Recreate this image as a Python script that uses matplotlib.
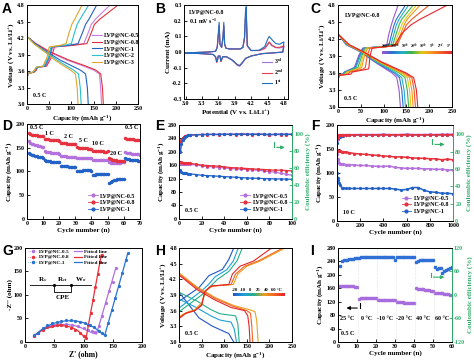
import matplotlib
matplotlib.use("Agg")
import matplotlib.pyplot as plt
import numpy as np
from matplotlib.lines import Line2D
from matplotlib.colors import LinearSegmentedColormap

plt.rcParams["font.family"] = "Liberation Serif"
plt.rcParams["font.weight"] = "bold"
plt.rcParams["axes.labelweight"] = "bold"
plt.rcParams["mathtext.fontset"] = "custom"
plt.rcParams["mathtext.rm"] = "Liberation Serif:bold"
plt.rcParams["mathtext.it"] = "Liberation Serif:italic:bold"
plt.rcParams["mathtext.bf"] = "Liberation Serif:bold"

# ---------------- A: charge / discharge of the five samples (0.5 C)
a_labels = ["LVP@NC-0.5", "LVP@NC-0.8", "LVP@NC-1", "LVP@NC-2", "LVP@NC-3"]
a_colors = ["#c87ee0", "#e5323e", "#2262c6", "#27c1c9", "#e2a52a"]
a_chg_v = [3.45, 3.56, 3.58, 3.62, 3.67, 3.69, 3.85, 4.04, 4.07, 4.10, 4.30, 4.45, 4.55, 4.80]
a_chg_cap = [
    [0, 2, 15, 20, 23, 42, 52, 58, 100, 128, 138, 145, 155, 187],
    [0, 2, 16, 21, 24, 44, 55, 62, 105, 135, 145, 152, 165, 205],
    [0, 2, 14, 19, 22, 40, 50, 56, 95, 115, 125, 132, 140, 157],
    [0, 2, 13, 18, 21, 38, 48, 54, 85, 100, 107, 113, 120, 139],
    [0, 2, 12, 17, 20, 36, 45, 50, 75, 88, 95, 101, 108, 124],
]
a_dis_v = [4.80, 4.22, 4.10, 3.95, 3.80, 3.70, 3.62, 3.55, 3.30, 3.00]
a_dis_cap = [
    [0, 1, 20, 50, 90, 125, 150, 163, 166, 168],
    [0, 1, 20, 52, 95, 130, 155, 166, 170, 172],
    [0, 1, 18, 45, 75, 100, 120, 132, 136, 138],
    [0, 1, 16, 42, 68, 88, 105, 116, 120, 122],
    [0, 1, 15, 40, 63, 82, 98, 109, 113, 115],
]

# ---------------- B: CV of LVP@NC-0.8, cycles 3rd / 2nd / 1st
b_labels = ["3$^{rd}$", "2$^{nd}$", "1$^{st}$"]
b_colors = ["#a274d6", "#e5404e", "#1f6fc4"]
b_ox_v = [3.00, 3.40, 3.55, 3.58, 3.60, 3.615, 3.63, 3.66, 3.685, 3.70, 3.715, 3.74, 3.80, 4.00,
          4.05, 4.08, 4.095, 4.11, 4.13, 4.20, 4.35, 4.45, 4.50, 4.53, 4.58, 4.65, 4.72, 4.80]
b_ox_i = [
    [-0.005, 0.0, 0.005, 0.03, 0.11, 0.165, 0.05, 0.03, 0.09, 0.165, 0.05, 0.025, 0.02, 0.02,
     0.03, 0.09, 0.21, 0.25, 0.04, 0.01, 0.01, 0.022, 0.045, 0.06, 0.04, 0.028, 0.026, 0.035],
    [-0.005, 0.0, 0.005, 0.03, 0.11, 0.17, 0.05, 0.03, 0.09, 0.17, 0.05, 0.025, 0.02, 0.02,
     0.03, 0.09, 0.22, 0.26, 0.04, 0.01, 0.01, 0.025, 0.05, 0.065, 0.045, 0.03, 0.03, 0.04],
    [-0.005, 0.0, 0.005, 0.03, 0.12, 0.19, 0.05, 0.03, 0.10, 0.19, 0.05, 0.025, 0.02, 0.02,
     0.03, 0.10, 0.25, 0.29, 0.04, 0.01, 0.012, 0.035, 0.08, 0.10, 0.08, 0.055, 0.05, 0.065],
]
b_red_v = [4.80, 4.78, 4.60, 4.40, 4.20, 4.10, 4.03, 3.99, 3.95, 3.85, 3.75, 3.68, 3.655,
           3.645, 3.63, 3.60, 3.58, 3.57, 3.55, 3.50, 3.30, 3.00]
b_red_i = [
    [0.035, 0.0, -0.005, -0.01, -0.025, -0.04, -0.075, -0.09, -0.085, -0.05, -0.03, -0.03,
     -0.055, -0.06, -0.025, -0.025, -0.06, -0.065, -0.03, -0.015, -0.01, -0.005],
    [0.04, 0.0, -0.005, -0.01, -0.025, -0.04, -0.072, -0.088, -0.082, -0.05, -0.03, -0.03,
     -0.055, -0.06, -0.025, -0.025, -0.06, -0.065, -0.03, -0.015, -0.01, -0.005],
    [0.065, 0.0, -0.005, -0.01, -0.025, -0.04, -0.07, -0.085, -0.08, -0.05, -0.03, -0.03,
     -0.05, -0.055, -0.025, -0.025, -0.055, -0.06, -0.03, -0.015, -0.01, -0.005],
]

# ---------------- C: LVP@NC-0.8 over cycling (1st ... 200th)
c_labels = ["1$^{st}$", "2$^{nd}$", "5$^{th}$", "10$^{th}$", "20$^{th}$", "50$^{th}$", "100$^{th}$", "200$^{th}$"]
c_colors = ["#e8262a", "#f05a28", "#f7941d", "#e6c619", "#3cb44b", "#20b2c8", "#2c6fd1", "#9b59d0"]
c_label_pos = [243, 225, 206, 187, 167, 146, 125, 104]
c_chg_v = [3.45, 3.56, 3.58, 3.62, 3.67, 3.70, 3.90, 4.04, 4.07, 4.10, 4.30, 4.45, 4.55, 4.80]
c_chg_cap = [
    [0, 2, 28, 32, 66, 68, 70, 75, 110, 125, 140, 160, 180, 240],
    [0, 2, 22, 27, 55, 60, 64, 70, 112, 130, 142, 150, 162, 200],
    [0, 2, 18, 23, 45, 52, 58, 65, 110, 128, 138, 145, 152, 180],
    [0, 2, 16, 20, 40, 48, 55, 62, 108, 124, 133, 140, 147, 172],
    [0, 2, 14, 18, 35, 44, 52, 60, 105, 120, 128, 134, 140, 165],
    [0, 2, 12, 16, 32, 40, 49, 58, 102, 116, 123, 128, 134, 155],
    [0, 2, 11, 15, 30, 38, 47, 56, 100, 112, 118, 123, 128, 148],
    [0, 2, 10, 14, 28, 36, 45, 54, 96, 107, 112, 117, 121, 132],
]
c_dis_v = [4.80, 4.28, 4.10, 3.98, 3.80, 3.68, 3.60, 3.52, 3.30, 3.00]
c_dis_cap = [
    [0, 1, 25, 55, 95, 128, 150, 166, 172, 175],
    [0, 1, 24, 54, 93, 125, 147, 162, 167, 170],
    [0, 1, 23, 53, 91, 122, 143, 157, 162, 165],
    [0, 1, 22, 52, 89, 119, 139, 152, 157, 160],
    [0, 1, 21, 51, 87, 116, 135, 147, 152, 155],
    [0, 1, 20, 50, 84, 111, 128, 140, 145, 148],
    [0, 1, 19, 49, 82, 107, 124, 135, 140, 143],
    [0, 1, 18, 48, 80, 103, 119, 129, 134, 137],
]

# ---------------- D: rate performance
d_labels = ["LVP@NC-0.5", "LVP@NC-0.8", "LVP@NC-1"]
d_colors = ["#b470dc", "#e5323e", "#2262c6"]
d_cycles = list(range(1, 71))
d_cap = [
    [164, 160, 158, 157, 156, 155, 154, 153, 152, 151,
     142, 141, 140, 140, 139, 139, 138, 138, 138, 137,
     133, 132, 132, 132, 131, 131, 131, 131, 131, 130,
     128, 128, 128, 127, 127, 127, 127, 127, 127, 127,
     123, 123, 123, 123, 123, 124, 124, 124, 124, 124,
     119, 118, 118, 118, 118, 118, 118, 118, 119, 119,
     141, 139, 138, 138, 137, 137, 136, 136, 136, 135],
    [180, 178, 177, 177, 176, 176, 175, 175, 175, 174,
     168, 167, 167, 166, 166, 166, 165, 165, 165, 164,
     160, 159, 159, 159, 158, 158, 158, 158, 157, 157,
     151, 150, 150, 150, 149, 149, 149, 148, 148, 148,
     143, 143, 142, 142, 142, 142, 142, 141, 141, 142,
     127, 125, 124, 123, 123, 122, 122, 122, 122, 121,
     170, 169, 168, 168, 167, 167, 166, 166, 166, 165],
    [138, 136, 135, 134, 133, 132, 131, 130, 130, 129,
     123, 122, 121, 121, 120, 120, 120, 119, 119, 119,
     112, 111, 111, 111, 111, 110, 110, 110, 110, 110,
     101, 101, 101, 101, 102, 102, 102, 102, 102, 101,
     93, 93, 94, 94, 94, 94, 94, 94, 94, 94,
     76, 78, 80, 81, 82, 83, 83, 84, 84, 84,
     127, 126, 125, 124, 124, 123, 123, 123, 122, 122],
]
d_rates = ["0.5 C", "1 C", "2 C", "5 C", "10 C", "20 C", "0.5 C"]
d_rate_x = [6, 14, 25.5, 35, 44, 55.5, 65]
d_rate_y = [186, 174, 167, 160, 153, 133, 187]

# ---------------- E: cycling at 0.5 C
e_cycles = [1, 2, 3, 4, 5, 6, 8, 10, 15, 20, 25, 30, 35, 40, 45, 50, 55, 60, 65, 70, 75, 80, 85, 90, 95, 100]
e_cap = [
    [165, 164, 164, 163, 163, 163, 162, 162, 161, 158, 156, 155, 153, 152, 150, 149, 148, 147, 146, 145, 143, 141, 139, 136, 133, 130],
    [168, 168, 167, 167, 167, 166, 166, 165, 163, 160, 159, 158, 157, 155, 153, 152, 151, 150, 149, 148, 147, 146, 145, 145, 144, 143],
    [146, 140, 138, 137, 136, 136, 135, 134, 132, 130, 129, 128, 127, 126, 125, 124, 123, 122, 121, 121, 120, 120, 119, 119, 118, 118],
]
e_ce = [
    [80, 90, 94, 96, 97, 97.8, 98.4, 98.8, 99.1, 99.3, 99.4, 99.6, 99.5, 99.7, 99.6, 99.8, 100.2, 99.8, 99.6, 99.9, 99.7, 98.5, 99.6, 99.8, 99.7, 99.6],
    [91.7, 93, 95, 96.5, 97.5, 98, 98.6, 98.9, 99.1, 99.2, 99.2, 99.3, 99.2, 99.3, 99.3, 99.2, 99.3, 99.3, 99.2, 99.3, 99.3, 99.2, 99.3, 99.2, 99.2, 99.3],
    [79, 88, 93, 95.5, 96.5, 97.5, 98.2, 98.6, 99.0, 99.2, 99.3, 99.4, 99.3, 99.5, 99.4, 99.6, 99.8, 99.6, 99.5, 99.6, 99.4, 99.5, 99.3, 99.5, 99.4, 99.5],
]

# ---------------- F: long cycling at 10 C
f_cycles = [1, 5, 10, 20, 30, 40, 50, 75, 100, 150, 200, 250, 300, 350, 400, 450, 500, 550,
            600, 650, 700, 750, 800, 850, 900, 950, 1000]
f_cap = [
    [140, 130, 125, 121, 120, 119, 119, 118, 118, 117, 116, 116, 115, 114, 114, 115, 112, 111,
     110, 110, 110, 109, 109, 108, 108, 107, 106],
    [148, 147, 147, 146, 146, 145, 145, 144, 143, 141, 140, 139, 138, 137, 136, 135, 134, 134,
     133, 132, 131, 131, 130, 130, 128, 129, 128],
    [100, 90, 85, 80, 75, 70, 69, 68, 68, 68, 68, 68, 68, 68, 68, 68, 67, 65,
     66, 70, 70, 64, 61, 60, 58, 58, 57],
]
f_ce = [
    [94, 97, 98.5, 99, 99.3, 99.5, 99.6, 99.6, 99.7, 99.6, 99.8, 99.7, 99.8, 99.7, 100.2, 99.8,
     99.7, 99.8, 100.2, 99.8, 99.7, 99.8, 99.9, 99.8, 100.1, 99.9, 100.3],
    [96, 98.5, 99, 99.3, 99.4, 99.5, 99.5, 99.5, 99.5, 99.5, 99.5, 99.5, 99.5, 99.5, 99.5, 99.5,
     99.5, 99.5, 99.5, 99.5, 99.5, 99.5, 99.5, 99.5, 99.5, 99.5, 99.5],
    [90, 95, 96.5, 97, 97.5, 98, 98.5, 99, 99, 99.2, 99.2, 99.3, 99.3, 99.3, 99.4, 99.3, 99.4,
     99.4, 99.4, 99.3, 99.4, 99.4, 99.4, 99.4, 99.4, 99.4, 99.4],
]

# ---------------- G: Nyquist plots
g_pts_x = [
    [15, 22, 30, 40, 50, 60, 70, 80, 90, 100, 108, 114, 120, 126, 132, 138, 144, 150, 155],
    [15, 22, 30, 38, 46, 54, 62, 70, 78, 86, 94, 100, 104, 108, 112, 116, 120, 124, 128, 131],
    [15, 22, 30, 38, 46, 54, 62, 70, 78, 86, 94, 102, 110, 118, 126, 132, 136, 142, 148, 154, 160, 166, 172, 176],
]
g_pts_y = [
    [13, 19, 27, 33, 36, 38, 38, 36, 33, 30, 26, 24, 22, 33, 55, 83, 108, 128, 158],
    [13, 19, 26, 31, 34, 35, 35, 33, 30, 26, 20, 13, 9, 35, 62, 90, 117, 144, 171, 186],
    [14, 20, 29, 35, 40, 43, 45, 46, 46, 45, 43, 41, 37, 31, 24, 18, 15, 41, 68, 94, 120, 147, 174, 190],
]
g_fit_x = [
    [15, 20, 30, 40, 50, 60, 70, 80, 90, 100, 110, 117, 122, 130, 140, 150, 155],
    [15, 20, 30, 40, 50, 60, 70, 80, 90, 97, 101, 104, 110, 120, 130],
    [15, 20, 30, 40, 50, 60, 70, 80, 90, 100, 110, 120, 128, 136, 145, 155, 165, 175],
]
g_fit_y = [
    [12, 17, 25, 31, 35, 37, 37.5, 36, 33, 28, 22, 18, 17, 51, 94, 136, 158],
    [12, 18, 26, 31, 34, 35, 34, 31, 24, 16, 10, 8, 49, 117, 185],
    [12, 18, 28, 35, 40, 43, 45, 45, 44, 41, 36, 29, 21, 14, 54, 98, 142, 187],
]

# ---------------- H: LVP@NC-0.8 at different temperatures
h_temps = ["-20", "-10", "0", "25", "40", "60 \u00b0C"]
h_colors = ["#2255c4", "#1f9fd8", "#22b08c", "#e8a21f", "#f26522", "#e52424"]
h_label_pos = [124, 141, 157, 174, 193, 215]
h_chg = [
    ([0, 44, 66, 96, 110, 121], [3.78, 4.04, 4.27, 4.39, 4.58, 4.80]),
    ([0, 50, 65, 80, 105, 120, 131], [3.65, 3.98, 4.10, 4.25, 4.38, 4.55, 4.80]),
    ([0, 50, 70, 85, 110, 128, 140], [3.58, 3.90, 4.07, 4.20, 4.35, 4.55, 4.80]),
    ([0, 15, 35, 50, 60, 75, 120, 130, 150, 180, 235], [3.48, 3.56, 3.62, 3.75, 4.00, 4.07, 4.10, 4.30, 4.45, 4.55, 4.80]),
    ([0, 15, 35, 50, 58, 72, 115, 125, 145, 175, 230], [3.47, 3.55, 3.60, 3.72, 3.98, 4.07, 4.10, 4.30, 4.45, 4.55, 4.80]),
    ([0, 15, 35, 50, 56, 70, 110, 118, 135, 165, 205], [3.45, 3.55, 3.60, 3.70, 3.95, 4.07, 4.10, 4.30, 4.45, 4.55, 4.80]),
]
h_dis = [
    ([0, 44, 74, 110, 118, 121], [3.95, 3.46, 3.30, 3.16, 3.04, 3.00]),
    ([0, 40, 70, 90, 115, 122, 127], [3.82, 3.65, 3.50, 3.42, 3.38, 3.25, 3.00]),
    ([0, 40, 70, 90, 125, 130, 133], [3.95, 3.78, 3.62, 3.54, 3.50, 3.35, 3.00]),
    ([0, 40, 80, 120, 155, 168, 172, 175], [4.32, 4.05, 3.85, 3.70, 3.62, 3.58, 3.40, 3.00]),
    ([0, 40, 80, 120, 150, 158, 161, 163], [4.30, 4.03, 3.83, 3.68, 3.60, 3.55, 3.30, 3.00]),
    ([0, 40, 80, 115, 145, 152, 155, 157], [4.28, 4.00, 3.80, 3.66, 3.60, 3.50, 3.30, 3.00]),
]

# ---------------- I: cycling at different temperatures
i_cycles = list(range(1, 61))
i_cap = [168, 168, 167, 167, 167, 166, 166, 166, 165, 165,
         129, 130, 131, 131, 132, 132, 132, 132, 132, 131,
         125, 125, 125, 124, 124, 124, 124, 124, 124, 124,
         118, 118, 118, 118, 117, 117, 117, 117, 117, 117,
         160, 159, 158, 157, 157, 156, 155, 154, 153, 152,
         147, 147, 146, 146, 145, 144, 143, 142, 141, 140]
i_ce = [75, 86, 88, 89, 90, 91, 92, 93, 93.5, 94,
        95, 96, 97, 97, 97, 97.5, 97.5, 97, 97.5, 97.5,
        97, 97.5, 97.5, 97.5, 97.5, 97.5, 97.5, 97.5, 97, 89,
        97.5, 97.5, 97.5, 97.5, 97.5, 97.5, 97.5, 97.5, 97.5, 97.5,
        83, 87, 88, 88.5, 89, 89, 89, 89, 89, 89,
        72, 65, 68, 68, 57, 60, 63, 66, 69, 72]
i_temps = ["25 \u00b0C", "0 \u00b0C", "-10 \u00b0C", "-20 \u00b0C", "40 \u00b0C", "60 \u00b0C"]

GREEN = "#2fae6a"
FS = 4.3


def setup(ax, xlim, xticks, ylim, yticks, xlabel, ylabel, xdec=0, ydec=0):
    ax.set_xlim(xlim)
    ax.set_ylim(ylim)
    ax.set_xticks(xticks)
    ax.set_yticks(yticks)
    ax.set_xticklabels([f"{t:.{xdec}f}" for t in xticks])
    ax.set_yticklabels([f"{t:.{ydec}f}" for t in yticks])
    ax.tick_params(direction="in", length=2, width=0.6, labelsize=FS, pad=1.5)
    ax.set_xlabel(xlabel, fontsize=5, labelpad=1)
    ax.set_ylabel(ylabel, fontsize=5, labelpad=1)
    for s in ax.spines.values():
        s.set_linewidth(0.7)


def right_axis(ax, ylim, yticks):
    ax2 = ax.twinx()
    ax2.set_ylim(ylim)
    ax2.set_yticks(yticks)
    ax2.set_yticklabels([f"{t:.0f}" for t in yticks])
    ax2.tick_params(direction="in", length=2, width=0.6, labelsize=FS, pad=1.5, colors=GREEN)
    ax2.set_ylabel("Coulombic efficiency (%)", fontsize=5, labelpad=1.5, color=GREEN)
    ax2.spines["right"].set_color(GREEN)
    for s in ax2.spines.values():
        s.set_linewidth(0.7)
    return ax2


def small_legend(ax, **kw):
    leg = ax.legend(frameon=False, fontsize=FS, handlelength=1.6, labelspacing=0.25,
                    borderpad=0.2, handletextpad=0.4, **kw)
    return leg


fig = plt.figure(figsize=(4.74, 3.63), dpi=100)

VOLT = "Voltage (V vs. Li/Li$^{+}$)"
CAPX = "Capacity (mAh g$^{-1}$)"
v_ticks = [3.0, 3.3, 3.6, 3.9, 4.2, 4.5, 4.8]

# ---- A
ax = fig.add_axes([0.057, 0.713, 0.234, 0.273])
for i in range(5):
    ax.plot(a_chg_cap[i], a_chg_v, color=a_colors[i], lw=0.8, label=a_labels[i])
    ax.plot(a_dis_cap[i], a_dis_v, color=a_colors[i], lw=0.8)
setup(ax, (0, 250), [0, 50, 100, 150, 200, 250], (3.0, 4.8), v_ticks, CAPX, VOLT, ydec=1)
small_legend(ax, loc="upper left", bbox_to_anchor=(0.55, 0.76))
ax.text(0.05, 0.07, "0.5 C", transform=ax.transAxes, fontsize=FS)

# ---- B
ax = fig.add_axes([0.388, 0.727, 0.219, 0.259])
for i in range(3):
    ax.plot(b_ox_v + b_red_v, b_ox_i[i] + b_red_i[i], color=b_colors[i], lw=0.8, label=b_labels[i])
setup(ax, (2.97, 4.87), v_ticks, (-0.3, 0.3), [-0.3, -0.2, -0.1, 0.0, 0.1, 0.2, 0.3],
      "Potential (V vs. Li/Li$^{+}$)", "Current (mA)", xdec=1, ydec=1)
small_legend(ax, loc="lower right", bbox_to_anchor=(1.0, 0.08))
ax.text(0.05, 0.95, "LVP@NC-0.8\n0.1 mV s$^{-1}$", transform=ax.transAxes, fontsize=FS, va="top",
        linespacing=1.3)

# ---- C
ax = fig.add_axes([0.713, 0.705, 0.2405, 0.281])
for i in range(7, -1, -1):
    ax.plot(c_chg_cap[i], c_chg_v, color=c_colors[i], lw=0.8)
    ax.plot(c_dis_cap[i], c_dis_v, color=c_colors[i], lw=0.8)
setup(ax, (0, 250), [0, 50, 100, 150, 200, 250], (3.0, 4.8), v_ticks, CAPX, VOLT, ydec=1)
c_cmap = LinearSegmentedColormap.from_list("cyc", c_colors[::-1])
ax.imshow(np.linspace(0, 1, 256).reshape(1, -1), cmap=c_cmap, aspect="auto",
          extent=[96, 248, 3.93, 3.97], zorder=3)
for lab, xp in zip(c_labels, c_label_pos):
    ax.text(xp, 3.99, lab, fontsize=2.6, ha="center", va="bottom")
ax.set_xlim(0, 250)
ax.set_ylim(3.0, 4.8)
ax.text(0.06, 0.92, "LVP@NC-0.8", transform=ax.transAxes, fontsize=FS, va="top")
ax.text(0.05, 0.07, "0.5 C", transform=ax.transAxes, fontsize=FS)

# ---- D
ax = fig.add_axes([0.057, 0.397, 0.238, 0.262])
for i in range(3):
    ax.plot(d_cycles, d_cap[i], "o", ms=1.5, color=d_colors[i], label=d_labels[i])
setup(ax, (0, 70), [0, 10, 20, 30, 40, 50, 60, 70], (0, 200), [0, 50, 100, 150, 200],
      "Cycle number (n)", CAPX)
for lab, xp, yp in zip(d_rates, d_rate_x, d_rate_y):
    ax.text(xp, yp, lab, fontsize=FS, ha="center", va="bottom")
hd = [Line2D([], [], color=c, lw=0.6, marker="o", ms=2) for c in d_colors]
ax.legend(hd, d_labels, frameon=False, fontsize=FS, handlelength=1.6, labelspacing=0.25,
          borderpad=0.2, handletextpad=0.4, loc="lower right", bbox_to_anchor=(1.0, 0.03))

# ---- E
ax = fig.add_axes([0.378, 0.397, 0.238, 0.259])
for i in range(3):
    ax.plot(e_cycles, e_cap[i], "-o", ms=1.3, lw=0.9, color=d_colors[i])
setup(ax, (0, 100), [0, 20, 40, 60, 80, 100], (0, 280), [0, 40, 80, 120, 160, 200, 240, 280],
      "Cycle number (n)", CAPX)
ax2 = right_axis(ax, (0, 110.6), [0, 20, 40, 60, 80, 100])
for i in [0, 1, 2]:
    ax2.plot(e_cycles, e_ce[i], "-o", ms=1.3, lw=0.9, color=d_colors[i])
ax.plot([84, 84], [228, 213], color=GREEN, lw=0.8)
ax.annotate("", xy=(96, 213), xytext=(84, 213),
            arrowprops=dict(arrowstyle="-|>", color=GREEN, lw=0.8, mutation_scale=5))
ax.text(0.05, 0.07, "0.5 C", transform=ax.transAxes, fontsize=FS)
he = [Line2D([], [], color=c, lw=0.6, marker="o", ms=2) for c in d_colors]
ax.legend(he, d_labels, frameon=False, fontsize=FS, handlelength=1.6, labelspacing=0.25,
          borderpad=0.2, handletextpad=0.4, loc="lower right", bbox_to_anchor=(1.0, 0.03))

# ---- F
ax = fig.add_axes([0.711, 0.391, 0.245, 0.264])
for i in range(3):
    ax.plot(f_cycles, f_cap[i], "-o", ms=1.3, lw=1.1, color=d_colors[i])
setup(ax, (0, 1000), [0, 200, 400, 600, 800, 1000], (0, 200), [0, 50, 100, 150, 200],
      "Cycle number (n)", CAPX)
ax2 = right_axis(ax, (0, 110.5), [0, 20, 40, 60, 80, 100])
for i in [2, 0, 1]:
    ax2.plot(f_cycles, f_ce[i], "-o", ms=1.3, lw=1.1, color=d_colors[i])
ax.plot([819, 819], [171, 160], color=GREEN, lw=0.8)
ax.annotate("", xy=(950, 160), xytext=(819, 160),
            arrowprops=dict(arrowstyle="-|>", color=GREEN, lw=0.8, mutation_scale=5))
ax.text(0.05, 0.07, "10 C", transform=ax.transAxes, fontsize=FS)
ax.legend(he, d_labels, frameon=False, fontsize=FS, handlelength=1.6, labelspacing=0.25,
          borderpad=0.2, handletextpad=0.4, loc="lower right", bbox_to_anchor=(1.0, 0.03))

# ---- G
ax = fig.add_axes([0.053, 0.058, 0.247, 0.259])
g_colors = ["#b070e0", "#e8303a", "#2a72d0"]
for i in range(3):
    ax.plot(g_fit_x[i], g_fit_y[i], color=g_colors[i], lw=0.9)
    ax.plot(g_pts_x[i], g_pts_y[i], "o", ms=1.3, color=g_colors[i])
setup(ax, (0, 200), [0, 50, 100, 150, 200], (0, 200), [0, 50, 100, 150, 200],
      "Z' (ohm)", "-Z'' (ohm)")
ax.xaxis.label.set_size(5.5)
hg = [Line2D([], [], color=c, lw=0.5, ls=":", marker="o", ms=1.5) for c in g_colors]
hg += [Line2D([], [], color=c, lw=0.9) for c in g_colors]
ax.legend(hg, d_labels + ["Fitted line"] * 3, ncol=2, frameon=False, fontsize=3.8,
          handlelength=1.6, labelspacing=0.15, borderpad=0.1, handletextpad=0.4,
          columnspacing=0.8, loc="upper left", bbox_to_anchor=(0.0, 1.02))
# equivalent circuit sketch
ax.plot([8, 113], [122, 122], color="k", lw=0.6)
ax.plot([50, 50, 79, 79], [122, 106, 106, 122], color="k", lw=0.6)
ax.plot([50, 79], [122, 122], "o", ms=1.3, color="k")
ax.text(30, 124, "R$_s$", fontsize=5, ha="center", va="bottom")
ax.text(64, 124, "R$_{ct}$", fontsize=5, ha="center", va="bottom")
ax.text(95, 124, "W$_o$", fontsize=5, ha="center", va="bottom")
ax.text(64, 100, "CPE", fontsize=5, ha="center", va="top")

# ---- H
ax = fig.add_axes([0.378, 0.058, 0.238, 0.259])
for i in range(6):
    ax.plot(h_chg[i][0], h_chg[i][1], color=h_colors[i], lw=0.8)
    ax.plot(h_dis[i][0], h_dis[i][1], color=h_colors[i], lw=0.8)
setup(ax, (0, 250), [0, 50, 100, 150, 200, 250], (3.0, 4.8), v_ticks, CAPX, VOLT, ydec=1)
h_cmap = LinearSegmentedColormap.from_list("temp", h_colors)
ax.imshow(np.linspace(0, 1, 256).reshape(1, -1), cmap=h_cmap, aspect="auto",
          extent=[119, 234, 3.88, 3.93], zorder=3)
for lab, xp in zip(h_temps, h_label_pos):
    ax.text(xp, 3.96, lab, fontsize=3.3, ha="center", va="bottom")
ax.set_xlim(0, 250)
ax.set_ylim(3.0, 4.8)
ax.text(0.05, 0.07, "0.5 C", transform=ax.transAxes, fontsize=FS)

# ---- I
ax = fig.add_axes([0.713, 0.058, 0.2405, 0.259])
ax.plot(i_cycles, i_cap, "s", ms=1.5, color="#a86ddc")
setup(ax, (0, 60), [0, 10, 20, 30, 40, 50, 60], (0, 280), [0, 40, 80, 120, 160, 200, 240, 280],
      "Cycle number (n)", CAPX)
for xv in [10.5, 20.5, 30.5, 40.5, 50.5]:
    ax.axvline(xv, color="#cccccc", lw=0.4, ls=":")
ax2 = right_axis(ax, (-120, 120), [-120, -60, 0, 60, 120])
ax2.plot(i_cycles, i_ce, "s", ms=1.5, color="#2f6fd6")
for k, lab in enumerate(i_temps):
    ax.text(5 + 10 * k, 65, lab, fontsize=FS, ha="center")
ax.text(1.5, 22, "0.5 C", fontsize=FS)
ax.plot([11.6, 11.6], [116, 101], color="k", lw=0.8)
ax.annotate("", xy=(3, 101), xytext=(11.6, 101),
            arrowprops=dict(arrowstyle="-|>", color="k", lw=0.8, mutation_scale=5))
ax.plot([48.8, 48.8], [205, 193], color=GREEN, lw=0.8)
ax.annotate("", xy=(57.5, 193), xytext=(48.8, 193),
            arrowprops=dict(arrowstyle="-|>", color=GREEN, lw=0.8, mutation_scale=5))

# panel letters
for lab, xp, yp in [("A", 0.004, 0.995), ("B", 0.327, 0.995), ("C", 0.654, 0.995),
                    ("D", 0.004, 0.672), ("E", 0.327, 0.672), ("F", 0.657, 0.672),
                    ("G", 0.004, 0.328), ("H", 0.327, 0.328), ("I", 0.654, 0.328)]:
    fig.text(xp, yp, lab, fontsize=10, family="Liberation Sans", weight="bold", va="top")

fig.savefig("out.png", dpi=100)
